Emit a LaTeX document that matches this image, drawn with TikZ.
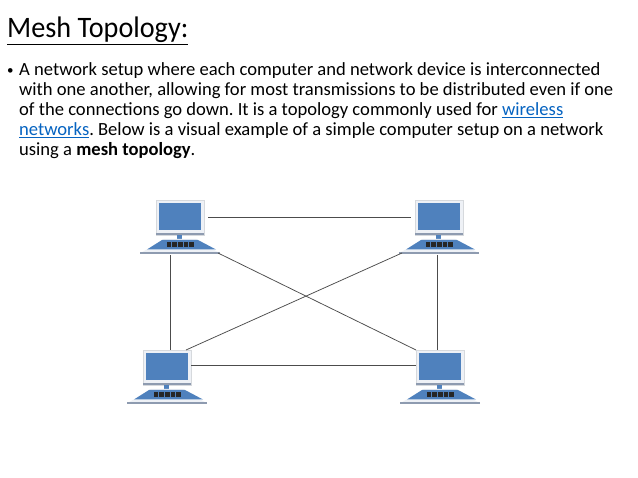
\documentclass[tikz,border=0pt]{standalone}
\usepackage{fontspec}
\setmainfont{Carlito}
\newfontfamily\titlefont[FakeStretch=0.95]{Carlito}
\definecolor{scrblue}{HTML}{4F81BD}
\definecolor{linkblue}{HTML}{0563C1}
\definecolor{frame}{HTML}{EEF1F6}
\definecolor{traygrey}{HTML}{8E9BB0}
\begin{document}
\frenchspacing
\begin{tikzpicture}[x=1pt,y=-1pt,
  txt/.style={anchor=base west,inner sep=0pt,font=\fontsize{18.58}{20}\selectfont},
  ttl/.style={anchor=base west,inner sep=0pt,font=\titlefont\fontsize{29.7}{32}\selectfont},
  wire/.style={draw=black!70,line width=0.75pt},
  computer/.pic={
    \fill[frame,draw=frame!90!black,line width=0.3pt] (0,0) rectangle (48,35);
    \fill[traygrey] (0,33.5) rectangle (48,35);
    \fill[scrblue] (2.5,3) rectangle (45,30);
    \fill[scrblue] (21,35) rectangle (26,40.5);
    \fill[frame] (8,39) -- (40,39) -- (64,53.5) -- (-16,53.5) -- cycle;
    \fill[scrblue] (6,40) -- (42,40) -- (60,49.5) -- (-9,49.5) -- cycle;
    \fill[traygrey] (-16,52.5) rectangle (64,53.7);
    \foreach \k in {0,1,2,3,4}{\fill[black!85] (10.5+\k*5.7,42) rectangle (15.2+\k*5.7,47);}
    \coordinate (-right) at (52,17.5);
    \coordinate (-left) at (-4,17.5);
    \coordinate (-mid) at (48,15);
    \coordinate (-edge) at (0,15);
  }]
\useasboundingbox (0,0) rectangle (638,478);
\fill[white] (0,0) rectangle (638,478);
\node[ttl] (title) at (7,37.5) {\underline{Mesh Topology:}};
\node[anchor=base west,inner sep=0pt,font=\fontsize{13}{14}\selectfont] (bullet) at (7,74.8) {•};
\node[txt] (l1) at (19,75.8) {A network setup where each computer and network device is interconnected};
\node[txt] (l2) at (19,95.8) {with one another, allowing for most transmissions to be distributed even if one};
\node[txt] (l3) at (19,115.8) {of the connections go down. It is a topology commonly used for \textcolor{linkblue}{\underline{wireless}}};
\node[txt] (l4) at (19,135.8) {\textcolor{linkblue}{\underline{networks}}. Below is a visual example of a simple computer setup on a network};
\node[txt] (l5) at (19,155.8) {using a \textbf{mesh topology}.};
\pic (tl) at (156,200) {computer};
\pic (tr) at (415,200) {computer};
\pic (bl) at (143,350) {computer};
\pic (br) at (416,350) {computer};
\coordinate (tlb) at (170,255);
\coordinate (blt) at (170,350);
\coordinate (trb) at (437,255);
\coordinate (brt) at (437,350);
\coordinate (tld) at (218,253);
\coordinate (brd) at (416,350);
\coordinate (trd) at (402,253);
\coordinate (bld) at (186,350);
\draw[wire] (tl-right) -- (tr-left);
\draw[wire] (bl-mid) -- (br-edge);
\draw[wire] (tlb) -- (blt);
\draw[wire] (trb) -- (brt);
\draw[wire] (tld) -- (brd);
\draw[wire] (trd) -- (bld);
\end{tikzpicture}
\end{document}
